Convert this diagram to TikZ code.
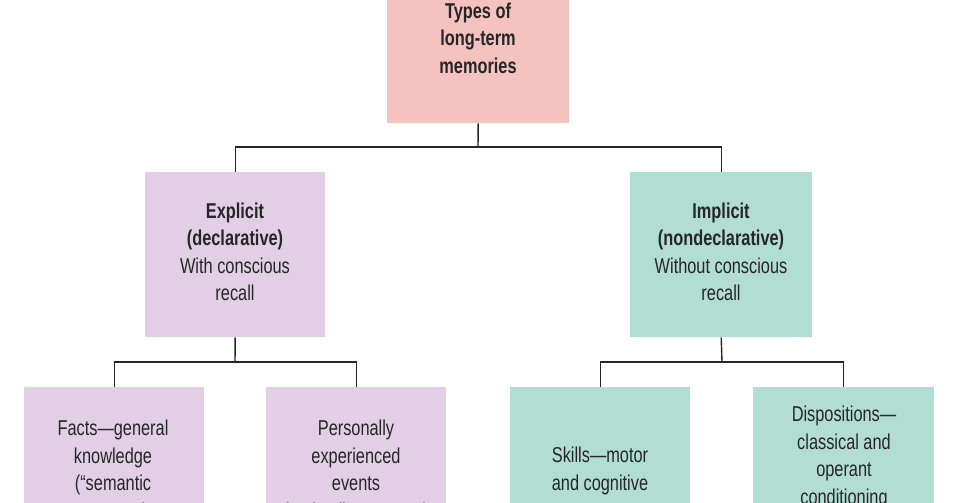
\documentclass[tikz,border=0pt]{standalone}
\usepackage{fontspec}
\setmainfont[FakeStretch=0.76]{Liberation Sans}
\begin{document}
\begin{tikzpicture}[x=1pt,y=-1pt,
  box/.style={anchor=north west,inner sep=0pt},
  tx/.style={font=\fontsize{21.5}{27.5}\selectfont,align=center,text=black!85,inner sep=0pt},
  ln/.style={draw=black!85,line width=1.4pt}]
\useasboundingbox (0,0) rectangle (958,503);
\clip (0,0) rectangle (958,503);
\definecolor{pinkc}{HTML}{F5C3BF}
\definecolor{lavc}{HTML}{E2CFE6}
\definecolor{tealc}{HTML}{B2DDD3}
\node[box,fill=pinkc,minimum width=182pt,minimum height=123pt] (top) at (387,0) {};
\node[tx,font=\fontsize{21.5}{27.5}\selectfont\bfseries] (toptxt) at (478,38) {Types of\\long-term\\memories};
\node[box,fill=lavc,minimum width=180pt,minimum height=165pt] (exp) at (145,172) {};
\node[tx] (exptxt) at (235,252) {\textbf{Explicit}\\\textbf{(declarative)}\\With conscious\\recall};
\node[box,fill=tealc,minimum width=182pt,minimum height=165pt] (imp) at (630,172) {};
\node[tx] (imptxt) at (721,252) {\textbf{Implicit}\\\textbf{(nondeclarative)}\\Without conscious\\recall};
\node[box,fill=lavc,minimum width=180pt,minimum height=140pt] (b1) at (24,387) {};
\node[box,fill=lavc,minimum width=180pt,minimum height=140pt] (b2) at (266,387) {};
\node[box,fill=tealc,minimum width=180pt,minimum height=140pt] (b3) at (510,387) {};
\node[box,fill=tealc,minimum width=181pt,minimum height=140pt] (b4) at (753,387) {};
\node[tx,anchor=north] (t1) at (113,420) {Facts---general\\knowledge\\(``semantic\\memory'')};
\node[tx,anchor=north] (t2) at (356,420) {Personally\\experienced\\events\\(``episodic memory'')};
\node[tx,anchor=north] (t3) at (600,447) {Skills---motor\\and cognitive};
\node[tx,anchor=north] (t4) at (844,406) {Dispositions---\\classical and\\operant\\conditioning\\effects};
\coordinate (j0) at (478,147);
\coordinate (j1) at (235,362);
\coordinate (j2) at (722,362);
\draw[ln] (top.south) -- (j0);
\draw[ln] (exp.north) |- (j0) -| (imp.north);
\draw[ln] (exp.south) -- (j1);
\draw[ln] (b1.north) |- (j1) -| (b2.north);
\draw[ln] (imp.south) -- (j2);
\draw[ln] (b3.north) |- (j2) -| (b4.north);
\end{tikzpicture}
\end{document}
